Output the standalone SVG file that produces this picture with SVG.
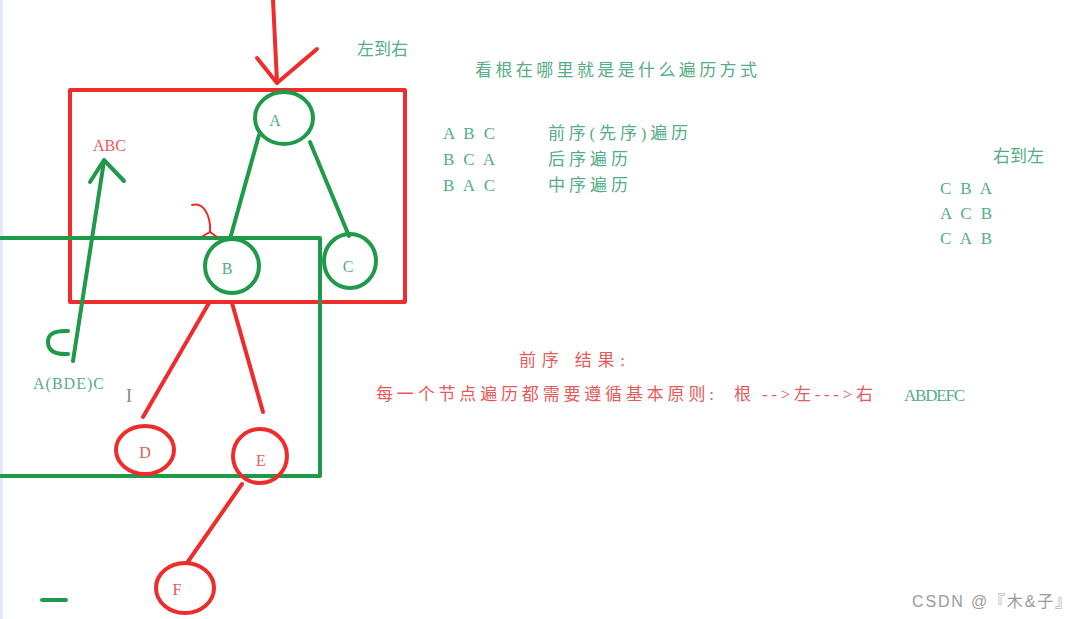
<svg xmlns="http://www.w3.org/2000/svg" width="1086" height="619" viewBox="0 0 1086 619">
<style>
.r{fill:none;stroke:#ee2c2c;stroke-width:4;stroke-linecap:round;stroke-linejoin:round}
.g{fill:none;stroke:#1f9a48;stroke-width:4;stroke-linecap:round;stroke-linejoin:round}
.t{font-family:"Liberation Serif","Noto Sans CJK SC",serif;font-size:17px}
.tg{fill:#55ad86}
.tr{fill:#e85a5a}
.n{font-family:"Liberation Serif",serif;font-size:16px;text-anchor:middle}
</style>
<rect width="1086" height="619" fill="#ffffff"/>
<rect x="0" y="0" width="3" height="619" fill="#e3ebf5"/>

<g id="frames">
<rect x="70" y="90" width="335" height="212" class="r"/>
<polyline points="0,238 320,238 320,476 0,476" class="g"/>
</g>

<g id="connectors">
<line x1="259" y1="135" x2="230" y2="239" class="g"/>
<line x1="310" y1="142" x2="349" y2="236" class="g"/>
<line x1="209" y1="303" x2="143" y2="417" class="r"/>
<line x1="232" y1="303" x2="263" y2="412" class="r"/>
<line x1="242" y1="484" x2="187" y2="563" class="r"/>
<polyline points="273,0 277,82" class="r"/>
<polyline points="257,58 277,83 317,49" class="r"/>
<line x1="104" y1="161" x2="73" y2="361" class="g"/>
<polyline points="90,182 104,160 124,181" class="g"/>
<path d="M192,205 Q200,203 205,210 Q211,219 210,232 M203,236 L210,232 L217,237" fill="none" stroke="#ee2c2c" stroke-width="2" stroke-linecap="round"/>
<path d="M68,331 Q47,330 48,343 Q49,355 68,354" class="g" stroke-width="3"/>
<line x1="42" y1="600" x2="66" y2="600" class="g" stroke-width="3"/>
</g>

<g id="node-A"><ellipse cx="284" cy="118" rx="29" ry="26" class="g"/><text x="275" y="126" class="n tg">A</text></g>
<g id="node-B"><ellipse cx="232" cy="266" rx="27" ry="27" class="g"/><text x="227" y="274" class="n tg">B</text></g>
<g id="node-C"><ellipse cx="350" cy="261" rx="26" ry="27" class="g"/><text x="348" y="272" class="n tg">C</text></g>
<g id="node-D"><ellipse cx="145" cy="450" rx="29" ry="24" class="r"/><text x="145" y="458" class="n tr">D</text></g>
<g id="node-E"><ellipse cx="260" cy="456" rx="27" ry="27" class="r"/><text x="261" y="466" class="n tr">E</text></g>
<g id="node-F"><ellipse cx="185" cy="588" rx="29" ry="25" class="r"/><text x="177" y="595" class="n tr">F</text></g>

<g id="labels">
<text x="93" y="151" class="t tr" style="font-size:16px">ABC</text>
<text x="33" y="389" class="t tg" style="font-size:16px" textLength="71">A(BDE)C</text>
<text x="126" y="402" font-family="Liberation Serif,serif" font-size="18" fill="#888888">I</text>
<text x="357" y="55" class="t tg">左到右</text>
<text x="475" y="76" class="t tg" textLength="282">看根在哪里就是是什么遍历方式</text>
<text x="443" y="139" class="t tg" textLength="52">A B C</text>
<text x="443" y="165" class="t tg" textLength="52">B C A</text>
<text x="443" y="191" class="t tg" textLength="52">B A C</text>
<text x="548" y="139" class="t tg" textLength="140">前序(先序)遍历</text>
<text x="548" y="165" class="t tg" textLength="80">后序遍历</text>
<text x="548" y="191" class="t tg" textLength="80">中序遍历</text>
<text x="993" y="162" class="t tg">右到左</text>
<text x="940" y="194" class="t tg" textLength="52">C B A</text>
<text x="940" y="219" class="t tg" textLength="52">A C B</text>
<text x="940" y="244" class="t tg" textLength="52">C A B</text>
<text x="519" y="366" class="t tr" textLength="106">前序 结果:</text>
<text x="376" y="400" class="t tr" textLength="338">每一个节点遍历都需要遵循基本原则:</text>
<text x="734" y="400" class="t tr">根</text>
<text x="762" y="400" class="t tr" textLength="111">--&gt;左---&gt;右</text>
<text x="904" y="401" class="t tg" textLength="61">ABDEFC</text>
<text x="912" y="607" font-family="Liberation Sans,Noto Sans CJK SC,sans-serif" font-size="16" fill="#9a9a9a" textLength="159">CSDN @『木&amp;子』</text>
</g>
</svg>
